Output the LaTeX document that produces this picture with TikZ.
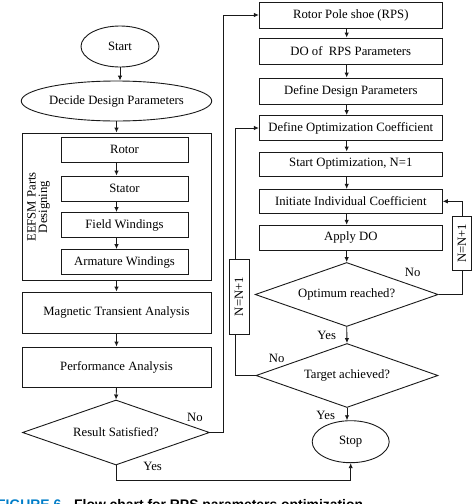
\documentclass[tikz,border=0pt]{standalone}
\usepackage{fontspec}
\setmainfont{Liberation Serif}
\setsansfont{Liberation Sans}
\usetikzlibrary{shapes.geometric,arrows.meta,calc}
\definecolor{capblue}{RGB}{0,125,200}
\definecolor{ink}{RGB}{25,25,25}
\begin{document}
\begin{tikzpicture}[x=1pt,y=-1pt,
  every node/.style={font=\fontsize{12.7}{13}\selectfont, text=black},
  box/.style={draw=ink, rectangle, inner sep=0pt, line width=0.9pt},
  term/.style={draw=ink, ellipse, inner sep=0pt, line width=0.9pt},
  dec/.style={draw=ink, diamond, aspect=3, inner sep=0pt, line width=0.9pt},
  conn/.style={draw=ink, line width=0.9pt},
  arr/.style={conn, -{Latex[length=5pt,width=4.5pt]}},
  lbl/.style={inner sep=0pt},
  captext/.style={inner sep=0pt, anchor=base west, font=\fontsize{13.9}{14}\sffamily\bfseries}
]
\useasboundingbox (0,0) rectangle (474,504);
\clip (0,0) rectangle (474,504);
% left column
\node[term, minimum width=78pt, minimum height=41pt] (start) at (120,46.5) {Start};
\node[term, minimum width=189pt, minimum height=40pt] (decide) at (116.5,101) {Decide Design Parameters};
\node[box, minimum width=189pt, minimum height=147pt] (group) at (116.5,206.5) {};
\node[box, minimum width=127pt, minimum height=25pt] (rotor) at (124.5,149.5) {Rotor};
\node[box, minimum width=127pt, minimum height=25pt] (stator) at (124.5,188.5) {Stator};
\node[box, minimum width=127pt, minimum height=25pt] (field) at (124.5,225) {Field Windings};
\node[box, minimum width=127pt, minimum height=25pt] (arm) at (124.5,262) {Armature Windings};
\node[lbl, rotate=90, align=center, font=\fontsize{12.7}{11.5}\selectfont] (eefsm) at (38.5,207) {EEFSM Parts\\Designing};
\node[box, minimum width=189pt, minimum height=41pt] (mag) at (116.5,312.5) {Magnetic Transient Analysis};
\node[box, minimum width=189pt, minimum height=40pt] (perf) at (116.5,367) {Performance Analysis};
\node[dec, minimum width=187pt, minimum height=65pt] (res) at (116,432.5) {Result Satisfied?};
% right column
\node[box, minimum width=183pt, minimum height=26pt] (rps) at (350.8,15) {Rotor Pole shoe (RPS)};
\node[box, minimum width=183pt, minimum height=26pt] (dorps) at (350.8,51) {DO of~ RPS Parameters};
\node[box, minimum width=183pt, minimum height=26pt] (ddp) at (350.8,91) {Define Design Parameters};
\node[box, minimum width=183pt, minimum height=25pt] (doc) at (350.8,128) {Define Optimization Coefficient};
\node[box, minimum width=183pt, minimum height=24pt] (sopt) at (350.8,164) {Start Optimization, N=1};
\node[box, minimum width=183pt, minimum height=24pt] (init) at (350.8,201.3) {Initiate Individual Coefficient};
\node[box, minimum width=183pt, minimum height=25pt] (apply) at (350.8,237.7) {Apply DO};
\node[dec, minimum width=183pt, minimum height=64pt] (opt) at (346.7,294.5) {Optimum reached?};
\node[dec, minimum width=182pt, minimum height=64pt] (tgt) at (347,375.5) {Target achieved?};
\node[term, minimum width=77pt, minimum height=42pt] (stop) at (350.7,441.7) {Stop};
\node[box, minimum width=18.6pt, minimum height=53.3pt] (nbr) at (462,243.3) {\rotatebox{90}{N=N+1}};
\node[box, minimum width=20pt, minimum height=75pt] (nbl) at (239,296.5) {\rotatebox{90}{N=N+1}};
% labels
\node[lbl] (no1) at (195,417) {No};
\node[lbl] (yes1) at (152.7,466) {Yes};
\node[lbl] (no2) at (412.7,272.7) {No};
\node[lbl] (yes2) at (326.7,335) {Yes};
\node[lbl] (no3) at (276.7,358.3) {No};
\node[lbl] (yes3) at (325.7,415) {Yes};
% caption (cut off at the bottom edge, as in the reference)
\node[captext, text=capblue] (capa) at (-3,509) {FIGURE 6.};
\node[captext] (capb) at (74,509) {Flow chart for RPS parameters optimization};
% coordinates
\coordinate (c1) at (223,15);
\coordinate (c2) at (0,480);
\coordinate (c4) at (235,0);
% left connectors
\draw[arr] (start.south) -- (start.south |- decide.north);
\draw[arr] (decide.south) -- (group.north);
\draw[arr] (group.center |- rotor.south) -- (group.center |- stator.north);
\draw[arr] (group.center |- stator.south) -- (group.center |- field.north);
\draw[arr] (group.center |- field.south) -- (group.center |- arm.north);
\draw[arr] (group.south) -- (mag.north);
\draw[arr] (mag.south) -- (perf.north);
\draw[arr] (perf.south) -- (res.north);
\draw[arr] (res.east) -| (c1) -- (rps.west);
\draw[arr] (res.south) -- (res.south |- c2) -- (stop.south |- c2) -- (stop.south);
% right connectors
\draw[arr] (opt.north |- rps.south) -- (opt.north |- dorps.north);
\draw[arr] (opt.north |- dorps.south) -- (opt.north |- ddp.north);
\draw[arr] (opt.north |- ddp.south) -- (opt.north |- doc.north);
\draw[arr] (opt.north |- doc.south) -- (opt.north |- sopt.north);
\draw[arr] (opt.north |- sopt.south) -- (opt.north |- init.north);
\draw[arr] (opt.north |- init.south) -- (opt.north |- apply.north);
\draw[arr] (opt.north |- apply.south) -- (opt.north);
\draw[arr] (opt.south) -- (tgt.north);
\draw[arr] (tgt.south) -- (tgt.south |- stop.north);
\draw[conn] (opt.east) -| (nbr.south);
\draw[arr] (nbr.north) |- (init.east);
\draw[conn] (tgt.west) -| (c4 |- nbl.south);
\draw[arr] (c4 |- nbl.north) |- (doc.west);
\end{tikzpicture}
\end{document}
